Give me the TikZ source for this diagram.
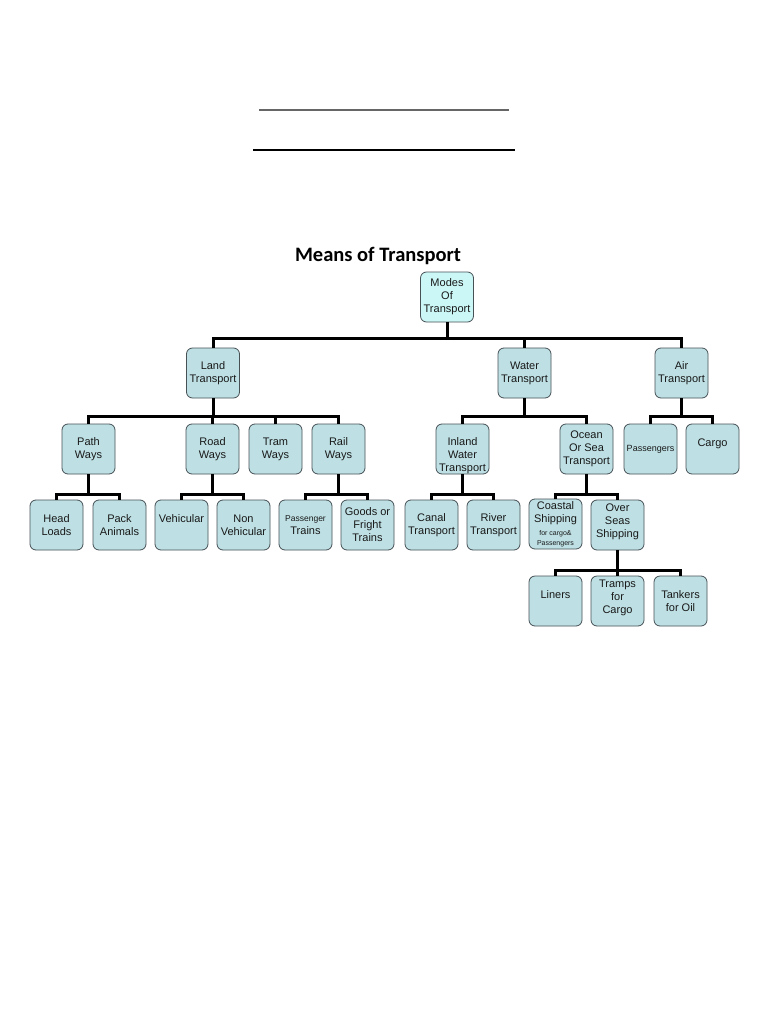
\documentclass[tikz,border=0pt]{standalone}
\usepackage{fontspec}
\newfontfamily\arialf{Liberation Sans}
\newfontfamily\calf{Carlito}
\definecolor{boxfill}{RGB}{190,224,228}
\definecolor{rootfill}{RGB}{204,247,247}
\definecolor{boxline}{RGB}{70,80,85}
\newcommand\treebranch[3]{%
  \foreach \c in {#3}{\draw[conn] (#1.south) -- (#1.south |- 0,#2) -| (\c.north);}}
\begin{document}
\begin{tikzpicture}[x=1pt,y=-1pt,
  box/.style={draw=boxline, line width=0.8pt, fill=boxfill, rounded corners=6pt,
    minimum width=53pt, minimum height=50pt, inner sep=0.5pt, align=center,
    font=\arialf\fontsize{11}{13}\selectfont, text=black!90},
  rootbox/.style={box, fill=rootfill},
  conn/.style={line width=3pt, black},
  small/.style={font=\arialf\fontsize{9}{13}\selectfont}]
\useasboundingbox (0,0) rectangle (768,1024);
\fill[white] (0,0) rectangle (768,1024);
% blank lines at the top
\draw[black!60, line width=1.2pt] (259,110) -- (509,110);
\draw[black, line width=2pt] (253,150) -- (515,150);
\node[anchor=base, font=\calf\bfseries\fontsize{20.5}{24}\selectfont] (title) at (378,261) {Means of Transport};
% level 0
\node[rootbox] (root) at (447,297) {Modes\\Of\\Transport};
% level 1
\node[box] (land) at (213,373) {Land\\Transport};
\node[box] (water) at (524.5,373) {Water\\Transport};
\node[box] (air) at (681.5,373) {Air\\Transport};
% level 2
\node[box] (path) at (88.5,449) {Path\\Ways};
\node[box] (road) at (212.5,449) {Road\\Ways};
\node[box] (tram) at (275.5,449) {Tram\\Ways};
\node[box] (rail) at (338.5,449) {Rail\\Ways};
\node[box] (inland) at (462.5,449) {\phantom{I}\\Inland\\Water\\Transport};
\node[box] (ocean) at (586.5,449) {Ocean\\Or Sea\\Transport};
\node[box, small] (pass) at (650.5,449) {Passengers};
\node[box] (cargo) at (712.5,449) {Cargo\\\phantom{C}};
% level 3
\node[box] (head) at (56.5,525) {Head\\Loads};
\node[box] (pack) at (119.5,525) {Pack\\Animals};
\node[box] (veh) at (181.5,525) {Vehicular\\\phantom{V}};
\node[box] (nonveh) at (243.5,525) {Non\\Vehicular};
\node[box] (ptrain) at (305.5,525) {{\fontsize{8.5}{13}\selectfont Passenger}\\Trains};
\node[box] (goods) at (367.5,525) {Goods or\\Fright\\Trains};
\node[box] (canal) at (431.5,525) {Canal\\Transport};
\node[box] (river) at (493.5,525) {River\\Transport};
\node[box] (coastal) at (555.5,524) {Coastal\\Shipping\\{\fontsize{7}{10}\selectfont for cargo\&}\\[-3pt]{\fontsize{7}{9}\selectfont Passengers}};
\node[box] (overseas) at (617.5,525) {Over\\Seas\\Shipping\\[-4pt]\phantom{S}};
% level 4
\node[box] (liners) at (555.5,601) {Liners\\\phantom{L}};
\node[box] (tramps) at (617.5,601) {Tramps\\for\\Cargo\\[-5pt]\phantom{C}};
\node[box] (tankers) at (680.5,601) {Tankers\\for Oil};
% connectors
\treebranch{root}{338}{land,water,air}
\treebranch{land}{416}{path,road,tram,rail}
\treebranch{water}{416}{inland,ocean}
\treebranch{air}{416}{pass,cargo}
\treebranch{path}{494}{head,pack}
\treebranch{road}{494}{veh,nonveh}
\treebranch{rail}{494}{ptrain,goods}
\treebranch{inland}{494}{canal,river}
\treebranch{ocean}{494}{coastal,overseas}
\treebranch{overseas}{570}{liners,tramps,tankers}
\end{tikzpicture}
\end{document}
